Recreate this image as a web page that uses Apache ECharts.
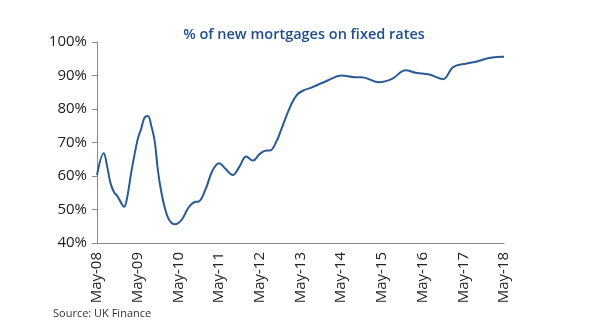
<!DOCTYPE html>
<html>
<head>
<meta charset="utf-8">
<script src="https://cdn.jsdelivr.net/npm/echarts@6/dist/echarts.min.js"></script>
<style>
  html, body { margin: 0; padding: 0; background: #fff; }
  #chart { width: 594px; height: 334px; }
</style>
</head>
<body>
<div id="chart"></div>
<script>
// Months elapsed since May 2008, and share of new mortgages on fixed rates (%)
var months = [0, 2, 3, 4, 5, 6, 7, 8, 9, 10, 12, 13, 14, 15, 16, 17, 18, 19, 20, 21, 22, 23, 25, 27, 29, 30, 32, 34, 36, 38, 40, 42, 44, 46, 48, 50, 51, 53, 54, 57, 59, 61, 63, 68, 72, 76, 78, 83, 87, 91, 94, 98, 102, 105, 109, 112, 116, 120];
var fixedShare = [60.3, 66.8, 62.8, 57.8, 55.2, 54.0, 52.2, 50.8, 54.2, 60.5, 71.0, 74.0, 77.4, 77.9, 75.0, 70.5, 61.3, 55.0, 50.5, 47.4, 46.0, 45.6, 47.0, 50.6, 52.3, 52.4, 56.0, 61.5, 63.8, 62.0, 60.3, 62.8, 65.8, 64.6, 66.6, 67.6, 67.6, 70.5, 73.0, 80.8, 84.3, 85.6, 86.3, 88.5, 90.0, 89.5, 89.5, 88.0, 89.0, 91.6, 90.8, 90.3, 88.9, 92.5, 93.6, 94.2, 95.3, 95.6];
var yearLabels = ['May-08', 'May-09', 'May-10', 'May-11', 'May-12', 'May-13', 'May-14', 'May-15', 'May-16', 'May-17', 'May-18'];

var points = months.map(function (m, i) { return [m, fixedShare[i]]; });
var FONT = '"Open Sans", "Noto Sans", sans-serif';

var chart = echarts.init(document.getElementById('chart'));
chart.setOption({
  animation: false,
  title: {
    text: '% of new mortgages on fixed rates',
    left: 299,
    textAlign: 'center',
    top: 22,
    textStyle: { color: '#1f4e8c', fontSize: 14.5, fontWeight: 600, fontFamily: FONT }
  },
  graphic: [{
    type: 'text',
    left: 53,
    top: 308,
    style: { text: 'Source: UK Finance', fill: '#333', font: '11px ' + FONT }
  }],
  grid: { left: 97, right: 90, top: 42, bottom: 91 },
  xAxis: {
    type: 'value',
    min: 0,
    max: 120,
    interval: 12,
    splitLine: { show: false },
    axisLine: { lineStyle: { color: '#888', width: 1 } },
    axisTick: { show: false },
    axisLabel: {
      rotate: 90,
      margin: 9,
      color: '#222',
      fontSize: 15,
      fontFamily: FONT,
      formatter: function (v) { return yearLabels[Math.round(v / 12)]; }
    }
  },
  yAxis: {
    type: 'value',
    min: 40,
    max: 100,
    interval: 10,
    splitLine: { show: false },
    axisLine: { show: true, lineStyle: { color: '#888', width: 1 } },
    axisTick: { show: true, length: 5, lineStyle: { color: '#888' } },
    axisLabel: {
      margin: 10,
      color: '#222',
      fontSize: 15,
      fontFamily: FONT,
      formatter: '{value}%'
    }
  },
  series: [{
    type: 'line',
    data: points,
    smooth: 0.4,
    showSymbol: false,
    lineStyle: { color: '#2a5a94', width: 2 }
  }]
});
</script>
</body>
</html>
